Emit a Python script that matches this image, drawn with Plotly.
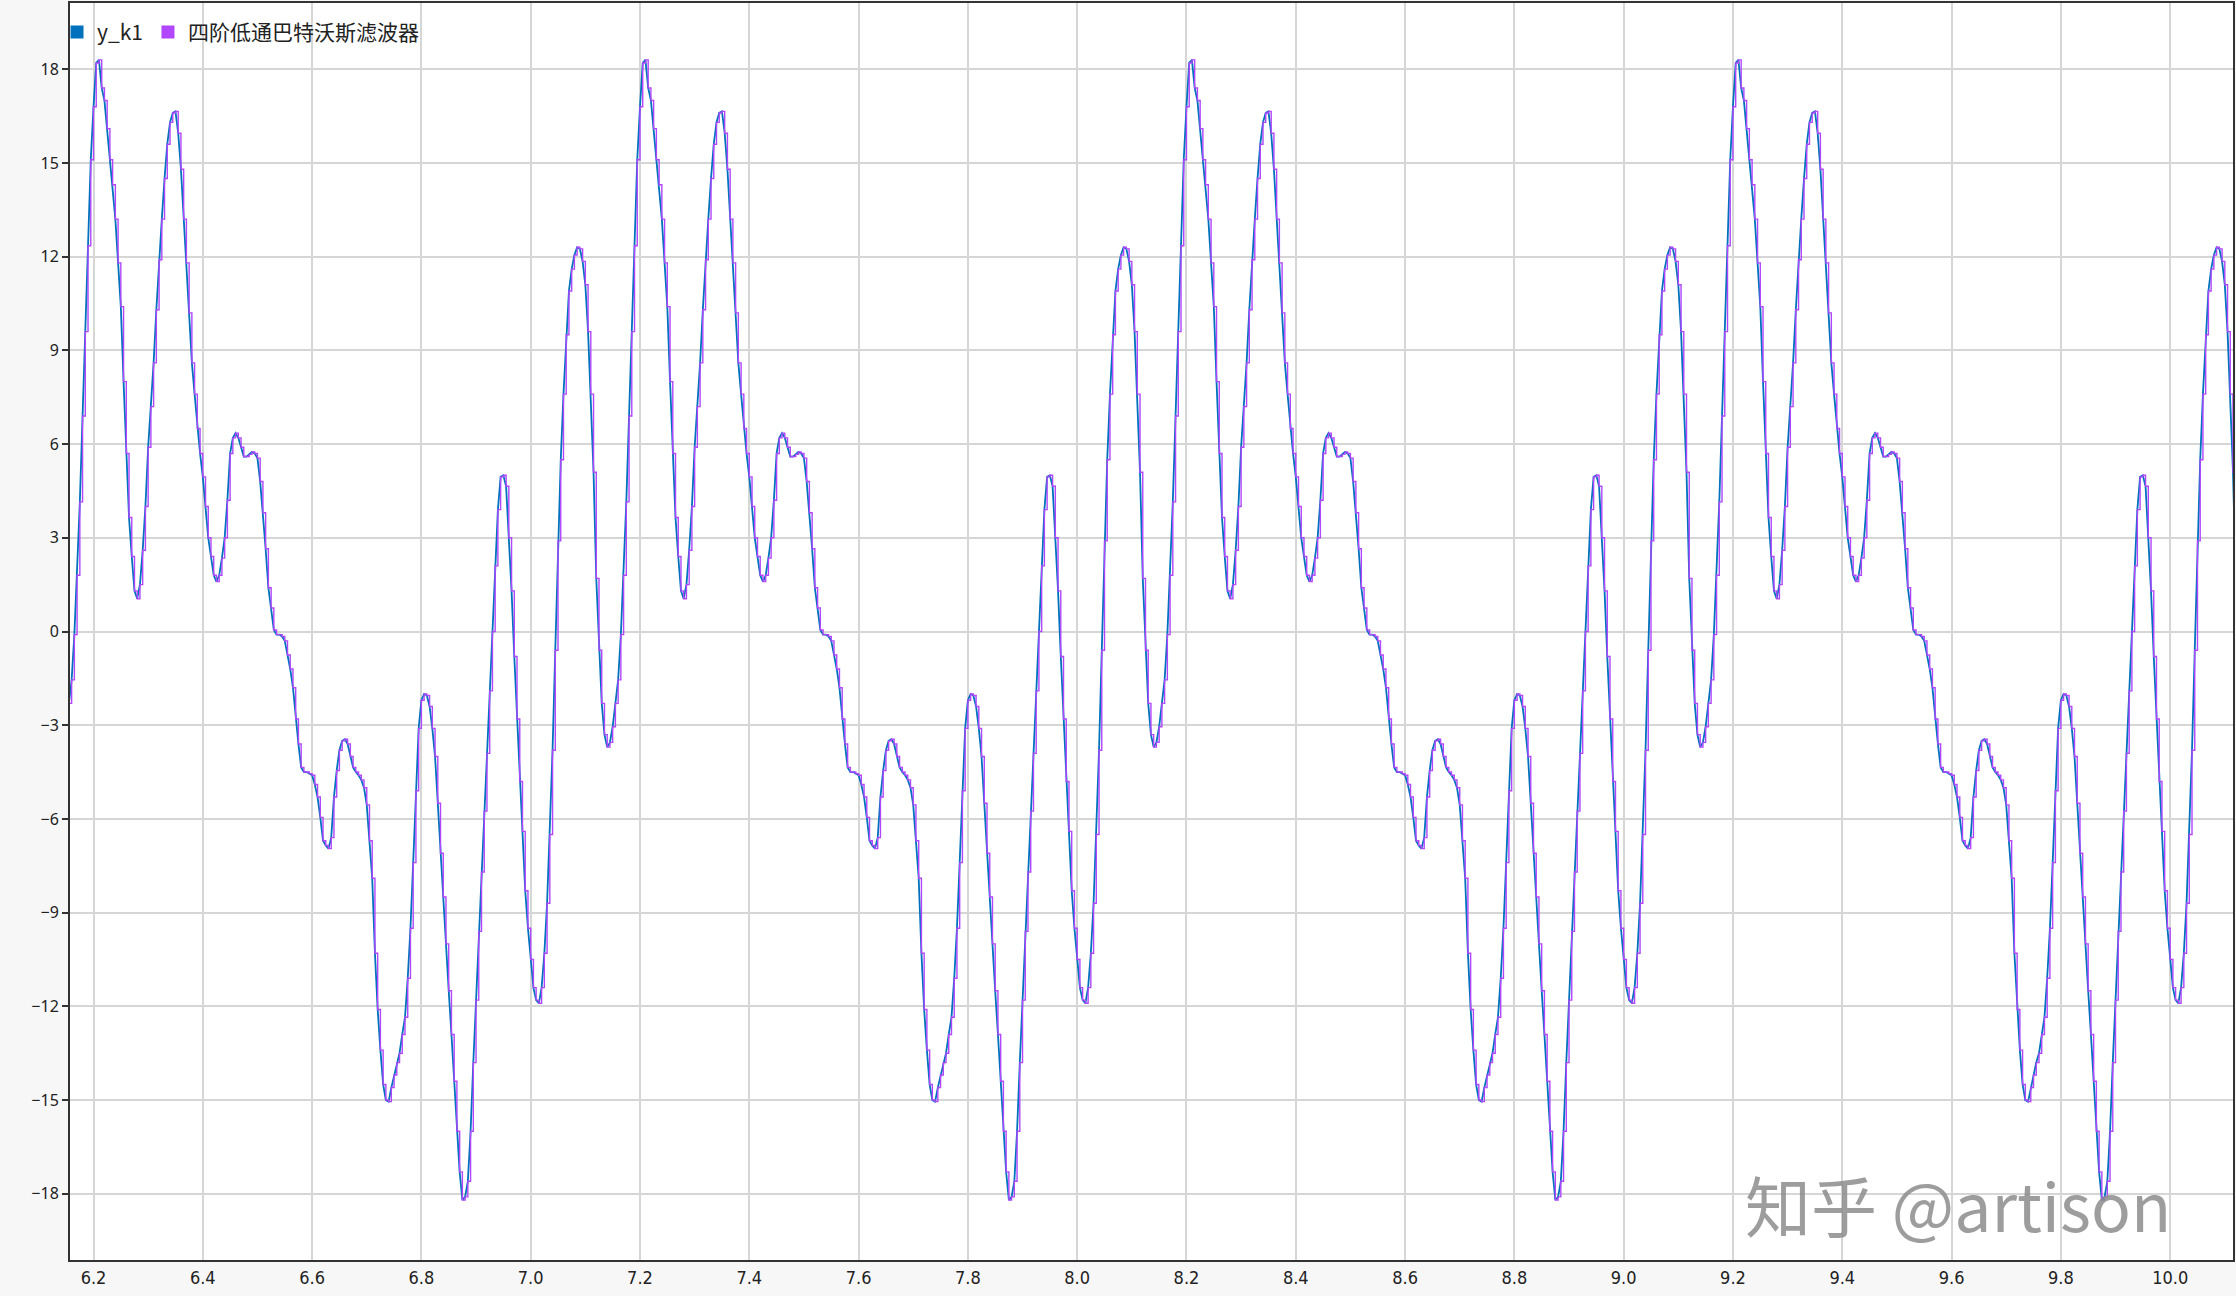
import plotly.graph_objects as go

# Sampling of the recorded signal (seconds)
t_start = 6.155
t_step = 0.005

# One period of the signal (t = 7.200 ... 8.195 s, every 5 ms);
# the recording shows the same waveform repeating every 1.0 s.
cycle = [
    16.8, 18.2, 18.3, 17.4, 17.0, 16.1, 15.1, 14.3, 13.2, 11.8,
    10.4, 8.0, 5.7, 3.65, 2.4, 1.3, 1.05, 1.5, 2.6, 4.0,
    5.9, 7.2, 8.6, 10.3, 11.9, 13.2, 14.5, 15.6, 16.3, 16.6,
    16.65, 15.95, 14.8, 13.2, 11.8, 10.2, 8.6, 7.6, 6.5, 5.7,
    4.95, 4.0, 3.0, 2.4, 1.8, 1.6, 1.8, 2.35, 3.0, 4.2,
    5.7, 6.2, 6.35, 6.2, 5.9, 5.6, 5.6, 5.67, 5.75, 5.7,
    5.55, 4.8, 3.8, 2.65, 1.4, 0.75, 0.05, -0.1, -0.1, -0.16,
    -0.3, -0.75, -1.2, -1.8, -2.8, -3.6, -4.35, -4.5, -4.5, -4.55,
    -4.6, -4.9, -5.3, -5.95, -6.7, -6.85, -6.95, -6.6, -5.3, -4.45,
    -3.8, -3.5, -3.45, -3.6, -4.0, -4.35, -4.5, -4.6, -4.75, -5.0,
    -5.55, -6.7, -7.9, -10.3, -12.1, -13.4, -14.5, -15.0, -15.05, -14.6,
    -14.2, -13.8, -13.5, -12.9, -12.35, -11.1, -9.5, -7.4, -5.1, -3.1,
    -2.2, -2.0, -2.05, -2.4, -3.1, -4.0, -5.5, -7.1, -8.5, -10.0,
    -11.5, -12.9, -14.4, -16.0, -17.3, -18.2, -18.1, -17.6, -16.0, -13.8,
    -11.8, -9.6, -7.7, -5.75, -3.9, -1.9, 0.0, 2.1, 3.9, 4.95,
    5.0, 4.65, 3.0, 1.3, -0.8, -2.8, -4.8, -6.4, -8.3, -9.5,
    -10.5, -11.4, -11.8, -11.9, -11.4, -10.3, -8.7, -6.5, -3.8, -0.6,
    2.9, 5.5, 7.6, 9.5, 10.9, 11.6, 12.05, 12.3, 12.25, 11.85,
    11.1, 9.6, 7.6, 5.1, 1.7, -0.6, -2.3, -3.3, -3.7, -3.55,
    -3.05, -2.3, -1.55, -0.1, 1.8, 4.15, 6.9, 9.6, 12.35, 15.1,
]

# Visible window 6.155 ... 10.120 s
y_k1 = cycle[191:] + cycle + cycle + cycle + cycle[:185]
butter4 = list(y_k1)

series_names = ["y_k1", "四阶低通巴特沃斯滤波器"]
series_colors = ["#0072BD", "#B146FF"]

x_ticks = [6.2, 6.4, 6.6, 6.8, 7.0, 7.2, 7.4, 7.6, 7.8, 8.0, 8.2, 8.4, 8.6, 8.8,
           9.0, 9.2, 9.4, 9.6, 9.8, 10.0]
x_tick_text = ["6.2", "6.4", "6.6", "6.8", "7.0", "7.2", "7.4", "7.6", "7.8", "8.0",
               "8.2", "8.4", "8.6", "8.8", "9.0", "9.2", "9.4", "9.6", "9.8", "10.0"]
y_ticks = [-18, -15, -12, -9, -6, -3, 0, 3, 6, 9, 12, 15, 18]

fig = go.Figure()

fig.add_trace(go.Scatter(
    x0=t_start, dx=t_step, y=y_k1, mode="lines", name=series_names[0],
    line=dict(color=series_colors[0], width=1.8), showlegend=False,
))
fig.add_trace(go.Scatter(
    x0=t_start, dx=t_step, y=butter4, mode="lines", name=series_names[1],
    line=dict(color=series_colors[1], width=1.4, shape="hv"), showlegend=False,
))
# legend entries with square swatches
for nm, col in zip(series_names, series_colors):
    fig.add_trace(go.Scatter(
        x=[None], y=[None], mode="markers", name=nm,
        marker=dict(symbol="square", size=13, color=col),
    ))

fig.update_layout(
    width=2236, height=1296,
    margin=dict(l=70, r=3, t=1, b=36),
    paper_bgcolor="#f7f7f7",
    plot_bgcolor="white",
    showlegend=True,
    legend=dict(
        x=-0.006, y=0.993, xanchor="left", yanchor="top", orientation="h",
        bgcolor="rgba(0,0,0,0)", font=dict(size=21, color="#222",
        family="Noto Sans CJK SC, Noto Sans, sans-serif"),
        itemwidth=30, tracegroupgap=0, itemclick=False,
    ),
    font=dict(family="Noto Sans, sans-serif", color="#222"),
)

fig.update_xaxes(
    range=[6.157, 10.115], tickmode="array", tickvals=x_ticks, ticktext=x_tick_text,
    showgrid=True, gridcolor="#d6d6d6", gridwidth=1.5,
    showline=True, linecolor="#333", linewidth=2, mirror=True,
    ticks="", zeroline=False,
    tickfont=dict(size=18, family="Liberation Sans Narrow, DejaVu Sans Condensed, sans-serif", color="#222"),
)
fig.update_yaxes(
    range=[-20.12, 20.12], tickmode="array", tickvals=y_ticks,
    showgrid=True, gridcolor="#d6d6d6", gridwidth=1.5,
    showline=True, linecolor="#333", linewidth=2, mirror=True,
    ticks="outside", ticklen=6, tickwidth=1.5, tickcolor="#333", zeroline=False,
    tickfont=dict(size=16, family="Noto Sans, sans-serif", color="#222"),
)

fig.add_annotation(
    text="知乎 @artison", xref="paper", yref="paper", x=0.873, y=0.045,
    xanchor="center", yanchor="middle", showarrow=False,
    font=dict(size=66, color="rgba(140,140,140,0.85)", family="Noto Sans CJK SC, sans-serif"),
)

fig.write_html("out.html", config={"displayModeBar": False},
               post_script="document.body.style.margin='0';")
